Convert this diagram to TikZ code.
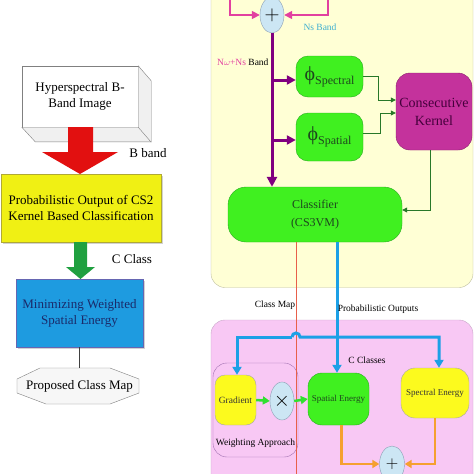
\documentclass[tikz,border=0pt]{standalone}
\usepackage{fontspec}
\setmainfont{Liberation Serif}
\usetikzlibrary{arrows.meta,shapes.geometric,shadows,calc}
\definecolor{ybg}{RGB}{255,255,213}
\definecolor{ybd}{RGB}{190,190,160}
\definecolor{pbg}{RGB}{248,200,244}
\definecolor{pbd}{RGB}{200,165,200}
\definecolor{gfill}{RGB}{64,240,32}
\definecolor{gbd}{RGB}{40,170,30}
\definecolor{gtxt}{RGB}{30,70,30}
\definecolor{kfill}{RGB}{196,50,156}
\definecolor{ktxt}{RGB}{70,0,60}
\definecolor{purp}{RGB}{128,0,128}
\definecolor{mag}{RGB}{226,64,160}
\definecolor{efill}{RGB}{204,230,244}
\definecolor{ebd}{RGB}{140,160,180}
\definecolor{bline}{RGB}{28,160,230}
\definecolor{oline}{RGB}{245,160,48}
\definecolor{rline}{RGB}{232,96,74}
\definecolor{dgreen}{RGB}{40,120,40}
\definecolor{ylw}{RGB}{252,250,30}
\definecolor{lyel}{RGB}{240,240,20}
\definecolor{redA}{RGB}{226,16,16}
\definecolor{grnA}{RGB}{32,160,64}
\definecolor{blbox}{RGB}{30,155,224}
\definecolor{navy}{RGB}{26,42,106}
\definecolor{cyanT}{RGB}{64,176,208}
\definecolor{brightg}{RGB}{48,224,48}
\definecolor{wbd}{RGB}{160,112,176}
\newcommand{\lft}{\fontsize{13}{16}\selectfont}
\newcommand{\sml}{\fontsize{9.5}{11}\selectfont}
\begin{document}
\begin{tikzpicture}[x=1pt,y=-1pt,
  gnode/.style={draw=gbd, fill=gfill, rounded corners=12pt, text=gtxt, align=center, inner sep=0pt},
  ynode/.style={draw=gray!70, fill=ylw, rounded corners=12pt, text=black!80, align=center, inner sep=0pt},
  ell/.style={ellipse, draw=ebd, fill=efill, inner sep=0pt},
  lbl/.style={font=\sml, inner sep=0pt},
  shad/.style={drop shadow={opacity=0.35, shadow xshift=2pt, shadow yshift=-2pt}}
]
\useasboundingbox (0,0) rectangle (474,474);
\fill[white] (0,0) rectangle (474,474);

% ---------- regions ----------
\node[draw=ybd, fill=ybg, rounded corners=14pt, minimum width=262pt, minimum height=305pt, inner sep=0pt] (yreg) at (342,135) {};
\node[draw=pbd, fill=pbg, rounded corners=14pt, minimum width=262pt, minimum height=170pt, inner sep=0pt] (preg) at (342,405) {};

% ---------- left column ----------
\node[draw=gray, fill=white, minimum width=116pt, minimum height=61pt, align=center, font=\lft, inner sep=0pt] (hyp) at (80,96.5) {Hyperspectral B-\\Band Image};
\filldraw[draw=gray, fill=gray!12] (hyp.north east) -- ++(13,15) -- ++(0,61) -- ++(-116,0) -- (hyp.south west) -- (hyp.south east) -- cycle;
\draw[gray] (hyp.south east) -- ++(13,15);

\fill[redA] (68,127) -- (93,127) -- (93,152) -- (118,152) -- (80,174) -- (42,152) -- (68,152) -- cycle;
\node[font=\lft, inner sep=0pt] (bband) at (148,153) {B band};

\node[draw=olive!70, fill=lyel, minimum width=160pt, minimum height=68pt, align=center, font=\lft, inner sep=0pt, shad] (prob) at (81,208) {Probabilistic Output of CS2\\Kernel Based Classification};

\fill[grnA] (74,242) -- (87,242) -- (87,267) -- (95,267) -- (80.5,279) -- (66,267) -- (74,267) -- cycle;
\node[font=\lft, inner sep=0pt] (cclass) at (132,259) {C Class};

\node[draw=blue!50!black!60, fill=blbox, minimum width=127pt, minimum height=68pt, align=center, font=\lft, text=navy, inner sep=0pt, shad] (mini) at (79.5,313) {Minimizing Weighted\\Spatial Energy};

\filldraw[draw=gray, fill=gray!6] (40,368) -- (110,368) -- (139,379) -- (139,393) -- (110,404) -- (46,404) -- (17,393) -- (17,379) -- cycle;
\node[minimum width=122pt, minimum height=36pt, inner sep=0pt, font=\lft] (pcm) at (79.5,386) {Proposed Class Map};
\draw[black!75, line width=0.8pt] (mini.south) -- (pcm.north);

% ---------- top right ----------
\node[ell, minimum width=24pt, minimum height=36pt] (plus1) at (272,15) {\fontsize{20}{20}\selectfont$+$};
\draw[mag, line width=1.6pt, -{Triangle[length=8pt,width=8pt]}] (230,-4) |- (plus1.west);
\draw[mag, line width=1.6pt, -{Triangle[length=8pt,width=8pt]}] (328,-4) |- (plus1.east);
\node[lbl, text=cyanT] (nsb) at (320,27) {Ns Band};
\node[lbl, anchor=west] (nwb) at (217,62) {\textcolor{mag}{N$\omega$+Ns} Band};

\node[gnode, minimum width=67pt, minimum height=41pt] (spec) at (329.5,76.5) {{\fontsize{20}{20}\selectfont ϕ}\raisebox{-4pt}{\fontsize{12}{12}\selectfont Spectral}};
\node[gnode, minimum width=67pt, minimum height=48pt] (spat) at (329.5,137) {{\fontsize{20}{20}\selectfont ϕ}\raisebox{-4pt}{\fontsize{12}{12}\selectfont Spatial}};
\node[draw=kfill!70!black, fill=kfill, rounded corners=14pt, minimum width=76pt, minimum height=77pt, align=center, text=ktxt, inner sep=0pt, font=\fontsize{14}{18}\selectfont] (kern) at (434,111.5) {Consecutive\\Kernel};
\node[gnode, rounded corners=18pt, minimum width=174pt, minimum height=55pt, font=\fontsize{12}{18}\selectfont] (clf) at (315,214.5) {Classifier\\(CS3VM)};

\draw[purp, line width=3pt, -{Triangle[length=10pt,width=10pt]}] (plus1.south) -- (plus1.south |- clf.north);
\draw[purp, line width=3pt, -{Triangle[length=9pt,width=9pt]}] (plus1.south |- 0,80) -- (spec.west |- 0,80);
\draw[purp, line width=3pt, -{Triangle[length=9pt,width=9pt]}] (plus1.south |- 0,140) -- (spat.west |- 0,140);

\draw[dgreen, line width=0.8pt, -{Triangle[length=5pt,width=5pt]}] (spec.east) -- (378,76.5) |- (kern.west |- 0,100);
\draw[dgreen, line width=0.8pt, -{Triangle[length=5pt,width=5pt]}] (spat.east |- 0,133) -- (380,133) |- (kern.west |- 0,113);
\draw[dgreen, line width=0.8pt, -{Triangle[length=5pt,width=5pt]}] ([xshift=-4pt]kern.south) |- (clf.east |- 0,210);

% ---------- bottom right ----------
\node[draw=wbd, rounded corners=14pt, minimum width=85pt, minimum height=94pt, inner sep=0pt] (wa) at (255.5,410) {};
\node[lbl] (walbl) at (255.5,443) {Weighting Approach};
\node[ynode, rounded corners=10pt, minimum width=41pt, minimum height=50pt, font=\fontsize{9.5}{11}\selectfont] (grad) at (235.5,400) {Gradient};
\node[ell, minimum width=24pt, minimum height=38pt] (times) at (282,401) {\fontsize{20}{20}\selectfont$\times$};
\node[gnode, rounded corners=14pt, minimum width=61pt, minimum height=52pt, font=\fontsize{9}{11}\selectfont] (spen) at (338.5,399) {Spatial Energy};
\node[ynode, rounded corners=14pt, minimum width=68pt, minimum height=50pt, font=\fontsize{9}{11}\selectfont] (spcen) at (435,393) {Spectral Energy};
\node[ell, minimum width=25pt, minimum height=36pt] (plus2) at (392,464) {\fontsize{18}{18}\selectfont$+$};

\coordinate (redend) at (296,480);
\draw[rline, line width=1pt] ([xshift=-19pt]clf.south) -- (redend);

\draw[bline, line width=3pt] ([xshift=22pt]clf.south) -- ++(0,122);
\draw[bline, line width=3pt, -{Triangle[length=8pt,width=9pt]}] (292,337) -- (237,337) -- (grad.north -| 237,0);
\draw[bline, line width=3pt, -{Triangle[length=8pt,width=9pt]}] (292,337) arc[start angle=180, end angle=0, radius=4pt] -- (439,337) -- ([xshift=4pt]spcen.north);
\draw[bline, line width=3pt, -{Triangle[length=8pt,width=9pt]}] ([xshift=22pt]clf.south |- 0,336) -- ([xshift=22pt]clf.south |- spen.north);

\node[lbl] (cmap) at (275,305) {Class Map};
\node[lbl] (pout) at (378,309) {Probabilistic Outputs};
\node[lbl] (ccl) at (367,360) {C Classes};

\draw[brightg, line width=2.5pt, -{Triangle[length=7pt,width=8pt]}] (grad.east) -- (times.west);
\draw[brightg, line width=2.5pt, -{Triangle[length=7pt,width=8pt]}] (times.east) -- (spen.west);

\draw[oline, line width=2.5pt, -{Triangle[length=7pt,width=8pt]}] ([xshift=3pt]spen.south) |- (plus2.west);
\draw[oline, line width=2.5pt, -{Triangle[length=7pt,width=8pt]}] (spcen.south) |- (plus2.east);
\end{tikzpicture}
\end{document}
